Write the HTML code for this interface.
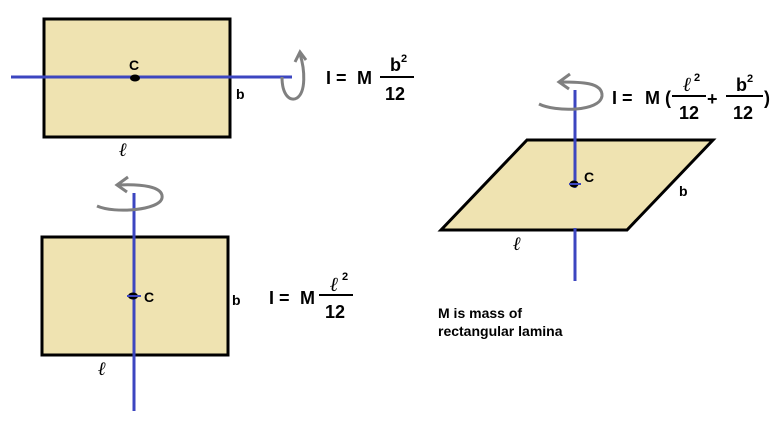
<!DOCTYPE html>
<html><head><meta charset="utf-8"><style>
html,body{margin:0;padding:0;background:#fff;}
svg{display:block;}
text{font-family:"Liberation Sans",Arial,sans-serif;font-weight:bold;fill:#000;}
.it{font-family:"DejaVu Serif","Liberation Serif",serif;font-style:italic;font-weight:bold;}
</style></head><body>
<svg width="777" height="427" viewBox="0 0 777 427" xmlns="http://www.w3.org/2000/svg">
<!-- top rect -->
<rect x="44" y="19" width="186" height="118" fill="#efe3b1" stroke="#000" stroke-width="3"/>
<line x1="11" y1="77" x2="292" y2="77" stroke="#3c46c0" stroke-width="3"/>
<ellipse cx="135" cy="78" rx="5" ry="3.5" fill="#000"/>
<text x="129" y="70" font-size="14">C</text>
<text x="236" y="99" font-size="14">b</text>
<text x="119" y="156" font-size="19" class="it">ℓ</text>
<path d="M282,77 C282,95 290,102 297,98 C306,92 305,70 300,54" fill="none" stroke="#808080" stroke-width="3"/>
<path d="M295,62 L300,52 L306,60" fill="none" stroke="#808080" stroke-width="3"/>
<text x="326" y="84" font-size="18">I =</text>
<text x="357" y="84" font-size="18">M</text>
<line x1="380" y1="77" x2="414" y2="77" stroke="#000" stroke-width="2"/>
<text x="390" y="71" font-size="18">b</text>
<text x="401" y="62" font-size="11">2</text>
<text x="385" y="100" font-size="18">12</text>

<!-- bottom rect -->
<rect x="42" y="237" width="186" height="118" fill="#efe3b1" stroke="#000" stroke-width="3"/>
<line x1="134" y1="193" x2="134" y2="411" stroke="#3c46c0" stroke-width="3"/>
<ellipse cx="133" cy="296" rx="5" ry="3.5" fill="#000"/>
<line x1="127" y1="296" x2="141" y2="296" stroke="#3c46c0" stroke-width="2"/>
<text x="144" y="302" font-size="14">C</text>
<text x="232" y="305" font-size="14">b</text>
<text x="98" y="375" font-size="19" class="it">ℓ</text>
<path d="M97,206 C115,214 160,210 162,198 C164,186 140,184 118,185" fill="none" stroke="#808080" stroke-width="3"/>
<path d="M128,177 L117,185 L127,192" fill="none" stroke="#808080" stroke-width="3"/>
<text x="269" y="304" font-size="18">I =</text>
<text x="300" y="304" font-size="18">M</text>
<line x1="319" y1="295" x2="353" y2="295" stroke="#000" stroke-width="2"/>
<text x="330" y="291" font-size="20" class="it">ℓ</text>
<text x="342" y="280" font-size="11">2</text>
<text x="325" y="318" font-size="18">12</text>

<!-- parallelogram -->
<polygon points="527,140 713,140 627,230 441,230" fill="#efe3b1" stroke="#000" stroke-width="3" stroke-linejoin="miter"/>
<line x1="575" y1="90" x2="575" y2="188" stroke="#3c46c0" stroke-width="3"/>
<line x1="575" y1="228" x2="575" y2="281" stroke="#3c46c0" stroke-width="3"/>
<ellipse cx="574" cy="184" rx="4.5" ry="3.5" fill="#000"/>
<line x1="569" y1="184" x2="581" y2="184" stroke="#3c46c0" stroke-width="2"/>
<text x="584" y="182" font-size="14">C</text>
<text x="679" y="196" font-size="14">b</text>
<text x="513" y="250" font-size="19" class="it">ℓ</text>
<path d="M539,104 C555,112 600,112 602,96 C603,82 580,82 560,82" fill="none" stroke="#808080" stroke-width="3"/>
<path d="M570,74 L559,82 L569,89" fill="none" stroke="#808080" stroke-width="3"/>
<text x="612" y="104" font-size="18">I =</text>
<text x="645" y="104" font-size="18">M (</text>
<line x1="672" y1="96" x2="706" y2="96" stroke="#000" stroke-width="2"/>
<text x="683" y="91" font-size="20" class="it">ℓ</text>
<text x="694" y="81" font-size="11">2</text>
<text x="679" y="119" font-size="18">12</text>
<text x="707" y="105" font-size="18">+</text>
<line x1="726" y1="96" x2="763" y2="96" stroke="#000" stroke-width="2"/>
<text x="736" y="91" font-size="18">b</text>
<text x="747" y="82" font-size="11">2</text>
<text x="733" y="119" font-size="18">12</text>
<text x="764" y="104" font-size="18">)</text>

<text x="438" y="318" font-size="14">M is mass of</text>
<text x="438" y="336" font-size="14">rectangular lamina</text>
</svg>
</body></html>
